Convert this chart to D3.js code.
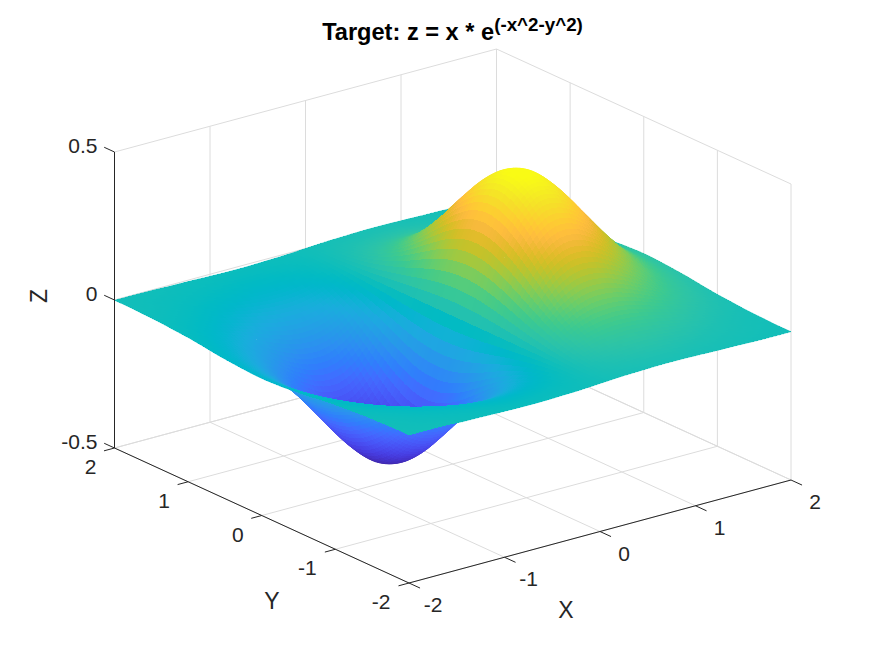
<!DOCTYPE html>
<html><head><meta charset="utf-8">
<script src="https://cdn.jsdelivr.net/npm/d3@7"></script>
<style>html,body{margin:0;padding:0;background:#fff}svg{display:block}text{font-family:"Liberation Sans",Arial,sans-serif;fill:#262626}</style>
</head><body><svg id="c" width="875" height="656"></svg>
<script>
const xs=[-2,-1.8,-1.6,-1.4,-1.2,-1,-.8,-.6,-.4,-.2,0,.2,.4,.6,.8,1,1.2,1.4,1.6,1.8,2];
const ys=[-2,-1.8,-1.6,-1.4,-1.2,-1,-.8,-.6,-.4,-.2,0,.2,.4,.6,.8,1,1.2,1.4,1.6,1.8,2];
const zRows=[
[-.001,-.001,-.002,-.004,-.005,-.007,-.008,-.008,-.006,-.004,0,.004,.006,.008,.008,.007,.005,.004,.002,.001,.001],
[-.001,-.003,-.005,-.008,-.011,-.014,-.017,-.016,-.013,-.008,0,.008,.013,.016,.017,.014,.011,.008,.005,.003,.001],
[-.003,-.005,-.010,-.015,-.022,-.028,-.033,-.032,-.026,-.015,0,.015,.026,.032,.033,.028,.022,.015,.010,.005,.003],
[-.005,-.010,-.017,-.028,-.040,-.052,-.059,-.059,-.048,-.027,0,.027,.048,.059,.059,.052,.040,.028,.017,.010,.005],
[-.009,-.017,-.029,-.047,-.067,-.087,-.100,-.099,-.081,-.046,0,.046,.081,.099,.100,.087,.067,.047,.029,.017,.009],
[-.013,-.026,-.046,-.073,-.105,-.135,-.155,-.154,-.125,-.071,0,.071,.125,.154,.155,.135,.105,.073,.046,.026,.013],
[-.019,-.037,-.065,-.104,-.150,-.194,-.222,-.221,-.180,-.101,0,.101,.180,.221,.222,.194,.150,.104,.065,.037,.019],
[-.026,-.049,-.086,-.138,-.198,-.257,-.294,-.292,-.238,-.134,0,.134,.238,.292,.294,.257,.198,.138,.086,.049,.026],
[-.031,-.060,-.105,-.168,-.242,-.313,-.359,-.357,-.290,-.164,0,.164,.290,.357,.359,.313,.242,.168,.105,.060,.031],
[-.035,-.068,-.119,-.189,-.273,-.353,-.405,-.402,-.327,-.185,0,.185,.327,.402,.405,.353,.273,.189,.119,.068,.035],
[-.037,-.071,-.124,-.197,-.284,-.368,-.422,-.419,-.341,-.192,0,.192,.341,.419,.422,.368,.284,.197,.124,.071,.037],
[-.035,-.068,-.119,-.189,-.273,-.353,-.405,-.402,-.327,-.185,0,.185,.327,.402,.405,.353,.273,.189,.119,.068,.035],
[-.031,-.060,-.105,-.168,-.242,-.313,-.359,-.357,-.290,-.164,0,.164,.290,.357,.359,.313,.242,.168,.105,.060,.031],
[-.026,-.049,-.086,-.138,-.198,-.257,-.294,-.292,-.238,-.134,0,.134,.238,.292,.294,.257,.198,.138,.086,.049,.026],
[-.019,-.037,-.065,-.104,-.150,-.194,-.222,-.221,-.180,-.101,0,.101,.180,.221,.222,.194,.150,.104,.065,.037,.019],
[-.013,-.026,-.046,-.073,-.105,-.135,-.155,-.154,-.125,-.071,0,.071,.125,.154,.155,.135,.105,.073,.046,.026,.013],
[-.009,-.017,-.029,-.047,-.067,-.087,-.100,-.099,-.081,-.046,0,.046,.081,.099,.100,.087,.067,.047,.029,.017,.009],
[-.005,-.010,-.017,-.028,-.040,-.052,-.059,-.059,-.048,-.027,0,.027,.048,.059,.059,.052,.040,.028,.017,.010,.005],
[-.003,-.005,-.010,-.015,-.022,-.028,-.033,-.032,-.026,-.015,0,.015,.026,.032,.033,.028,.022,.015,.010,.005,.003],
[-.001,-.003,-.005,-.008,-.011,-.014,-.017,-.016,-.013,-.008,0,.008,.013,.016,.017,.014,.011,.008,.005,.003,.001],
[-.001,-.001,-.002,-.004,-.005,-.007,-.008,-.008,-.006,-.004,0,.004,.006,.008,.008,.007,.005,.004,.002,.001,.001]
];
const xTicks=[-2,-1,0,1,2], yTicks=[-2,-1,0,1,2], zTicks=[-.5,0,.5];
const zTickLabels=["-0.5","0","0.5"];
const parula=[[.2422,.1504,.6603],[.2504,.165,.7076],[.2578,.1818,.7511],[.2647,.1978,.7952],[.2706,.2147,.8364],[.2751,.2342,.871],[.2783,.2559,.8991],[.2803,.2782,.9221],[.2813,.3006,.9414],[.281,.3228,.9579],[.2795,.3447,.9717],[.276,.3667,.9829],[.2699,.3892,.9906],[.2602,.4123,.9952],[.244,.4358,.9988],[.2206,.4603,.9973],[.1963,.4847,.9892],[.1834,.5074,.9798],[.1786,.5289,.9682],[.1764,.5499,.952],[.1687,.5703,.9359],[.154,.5902,.9218],[.146,.6091,.9079],[.138,.6276,.8973],[.1248,.6459,.8883],[.1113,.6635,.8763],[.0952,.6798,.8598],[.0689,.6948,.8394],[.0297,.7082,.8163],[.0036,.7203,.7917],[.0067,.7312,.766],[.0433,.7411,.7394],[.0964,.75,.712],[.1408,.7584,.6842],[.1717,.767,.6554],[.1938,.7758,.6251],[.2161,.7843,.5923],[.247,.7918,.5567],[.2906,.7973,.5188],[.3406,.8008,.4789],[.3909,.8029,.4354],[.4456,.8024,.3909],[.5044,.7993,.348],[.5616,.7942,.3045],[.6174,.7876,.2612],[.672,.7793,.2227],[.7242,.7698,.191],[.7738,.7598,.1646],[.8203,.7498,.1535],[.8634,.7406,.1596],[.9035,.733,.1774],[.9393,.7288,.21],[.9728,.7298,.2394],[.9956,.7434,.2371],[.997,.7659,.2199],[.9952,.7893,.2028],[.9892,.8136,.1885],[.9786,.8386,.1766],[.9676,.8639,.1643],[.961,.889,.1537],[.9597,.9135,.1423],[.9628,.9373,.1265],[.9691,.9606,.1064],[.9769,.9839,.0805]];

const svg=d3.select("#c");
const ox=452.75, oy=316;
const xPx=d3.scaleLinear().domain([-2,2]).range([-191,191]);
const xPy=d3.scaleLinear().domain([-2,2]).range([51.5,-51.5]);
const yPx=d3.scaleLinear().domain([-2,2]).range([147.25,-147.25]);
const yPy=d3.scaleLinear().domain([-2,2]).range([67.5,-67.5]);
const zPy=d3.scaleLinear().domain([-.5,.5]).range([148,-148]);
const P=(x,y,z)=>[ox+xPx(x)+yPx(y), oy+xPy(x)+yPy(y)+zPy(z)];
const allZ=zRows.flat(), ext=d3.extent(allZ);
const cStops=parula.map(c=>d3.rgb(c[0]*255,c[1]*255,c[2]*255));
const color=d3.scaleLinear().domain(d3.range(64).map(i=>ext[0]+(ext[1]-ext[0])*i/63)).range(cStops).clamp(true).interpolate(d3.interpolateRgb);

// walls & floor grid
const gridCol="#dcdcdc";
const seg=[];
const add=(a,b,col,w)=>seg.push({a,b,col,w});
for(const x of xTicks){ add(P(x,-2,-.5),P(x,2,-.5),gridCol,1); add(P(x,2,-.5),P(x,2,.5),gridCol,1); }
for(const y of yTicks){ add(P(-2,y,-.5),P(2,y,-.5),gridCol,1); add(P(2,y,-.5),P(2,y,.5),gridCol,1); }
for(const z of zTicks){ add(P(-2,2,z),P(2,2,z),gridCol,1); add(P(2,2,z),P(2,-2,z),gridCol,1); }
svg.append("g").selectAll("line").data(seg).join("line")
 .attr("x1",d=>d.a[0]).attr("y1",d=>d.a[1]).attr("x2",d=>d.b[0]).attr("y2",d=>d.b[1])
 .attr("stroke",d=>d.col).attr("stroke-width",d=>d.w);

// surface: far cells first; smooth shading inside each grid cell (drawing only)
const cr=(p0,p1,p2,p3,t)=>.5*((2*p1)+(p2-p0)*t+(2*p0-5*p1+4*p2-p3)*t*t+(3*p1-p0-3*p2+p3)*t*t*t);
const nJ=ys.length, nI=xs.length;
const at=(j,i)=>zRows[Math.max(0,Math.min(nJ-1,j))][Math.max(0,Math.min(nI-1,i))];
const smooth=(j,i,u,v)=>{
  const r=[-1,0,1,2].map(d=>cr(at(j+d,i-1),at(j+d,i),at(j+d,i+1),at(j+d,i+2),u));
  return cr(r[0],r[1],r[2],r[3],v);
};
const N=5, quads=[];
for(let j=nJ-2;j>=0;j--) for(let i=nI-2;i>=0;i--){
  const pt=(u,v)=>({x:xs[i]+u*(xs[i+1]-xs[i]),y:ys[j]+v*(ys[j+1]-ys[j]),z:smooth(j,i,u,v)});
  for(let b=N-1;b>=0;b--) for(let a=N-1;a>=0;a--){
    const c=[pt(a/N,b/N),pt((a+1)/N,b/N),pt((a+1)/N,(b+1)/N),pt(a/N,(b+1)/N)];
    quads.push({pts:c.map(p=>P(p.x,p.y,p.z)),z:smooth(j,i,(a+.5)/N,(b+.5)/N)});
  }
}
const qPath=d=>"M"+d.pts.map(p=>p[0].toFixed(2)+","+p[1].toFixed(2)).join("L")+"Z";
// antialiased underlay gives a soft silhouette, crisp top layer gives seamless shading
svg.append("g").selectAll("path").data(quads).join("path")
 .attr("d",qPath).attr("fill",d=>color(d.z)).attr("stroke",d=>color(d.z)).attr("stroke-width",.3);
svg.append("g").attr("shape-rendering","crispEdges").selectAll("path").data(quads).join("path")
 .attr("d",qPath).attr("fill",d=>color(d.z));

// axes
const axCol="#262626", ax=[];
ax.push([P(-2,2,-.5),P(-2,2,.5)],[P(-2,2,-.5),P(-2,-2,-.5)],[P(-2,-2,-.5),P(2,-2,-.5)]);
for(const x of xTicks) ax.push([P(x,-2,-.5),P(x,-2.15,-.5)]);
for(const y of yTicks) ax.push([P(-2,y,-.5),P(-2.11,y,-.5)]);
for(const z of zTicks) ax.push([P(-2,2,z),P(-2,2.14,z)]);
svg.append("g").selectAll("line").data(ax).join("line")
 .attr("x1",d=>d[0][0]).attr("y1",d=>d[0][1]).attr("x2",d=>d[1][0]).attr("y2",d=>d[1][1])
 .attr("stroke",axCol).attr("stroke-width",1);

const fs=21;
const label=(s,x,y,anchor,size)=>svg.append("text").attr("x",x).attr("y",y).attr("text-anchor",anchor||"middle").attr("font-size",size||fs).text(s);
zTicks.forEach((z,i)=>{const p=P(-2,2,z);label(zTickLabels[i],p[0]-17,p[1]+1,"end");});
yTicks.forEach(y=>{const p=P(-2,y,-.5);label(y,p[0]-(y<0?28:24),p[1]+26);});
xTicks.forEach(x=>{const p=P(x,-2,-.5);label(x,p[0]+24,p[1]+29);});
label("Y",272,609,"middle",23);
label("X",566,618,"middle",23);
svg.append("text").attr("transform","translate(47,296) rotate(-90)").attr("text-anchor","middle").attr("font-size",23).text("Z");
const t=svg.append("text").attr("x",452.5).attr("y",40).attr("text-anchor","middle").attr("font-weight","bold").attr("font-size",23.6).style("fill","#000");
t.append("tspan").text("Target: z = x * e");
t.append("tspan").attr("dy",-9.5).attr("font-size",18.8).text("(-x^2-y^2)");
</script></body></html>
